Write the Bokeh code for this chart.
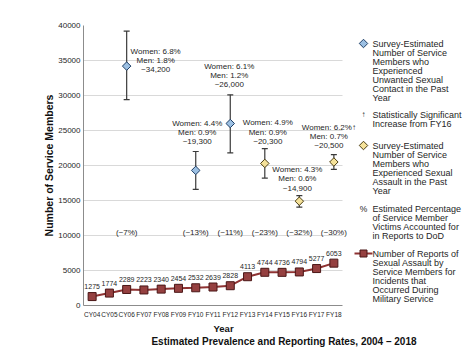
import math
from bokeh.plotting import figure
from bokeh.layouts import column
from bokeh.models import Range1d, FixedTicker, BoxAnnotation, Title, NumeralTickFormatter
from bokeh.core.properties import value
from bokeh.embed import file_html
from bokeh.resources import INLINE

# ---------------- data ----------------
categories = ["CY04", "CY05", "CY06", "FY07", "FY08", "FY09", "FY10", "FY11",
              "FY12", "FY13", "FY14", "FY15", "FY16", "FY17", "FY18"]
reports = [1275, 1774, 2289, 2223, 2340, 2454, 2532, 2639, 2828, 4113, 4744, 4736, 4794, 5277, 6053]

contact_years = ["CY06", "FY10", "FY12"]
contact_est = [34200, 19300, 26000]
contact_low = [29400, 16600, 21800]
contact_high = [39200, 22000, 30100]
contact_women = ["6.8%", "4.4%", "6.1%"]
contact_men = ["1.8%", "0.9%", "1.2%"]

assault_years = ["FY14", "FY16", "FY18"]
assault_est = [20300, 14900, 20500]
assault_low = [18200, 14050, 19450]
assault_high = [22400, 15700, 21550]
assault_women = ["4.9%", "4.3%", "6.2%\u2191"]
assault_men = ["0.9%", "0.6%", "0.7%"]

pct_years = ["CY06", "FY10", "FY12", "FY14", "FY16", "FY18"]
pct_labels = ["(~7%)", "(~13%)", "(~11%)", "(~23%)", "(~32%)", "(~30%)"]

y_ticks = [0, 5000, 10000, 15000, 20000, 25000, 30000, 35000, 40000]

legend_blocks = [
    ("blue", ["Survey-Estimated", "Number of Service", "Members who", "Experienced",
              "Unwanted Sexual", "Contact in the Past", "Year"]),
    ("arrow", ["Statistically Significant", "Increase from FY16"]),
    ("yellow", ["Survey-Estimated", "Number of Service", "Members who",
                "Experienced Sexual", "Assault in the Past", "Year"]),
    ("pct", ["Estimated Percentage", "of Service Member", "Victims Accounted for",
             "in Reports to DoD"]),
    ("line", ["Number of Reports of", "Sexual Assault by", "Service Members for",
              "Incidents that", "Occurred During", "Military Service"]),
]

title_text = "Estimated Prevalence and Reporting Rates, 2004 \u2013 2018"

# ---------------- geometry / style (page pixels) ----------------
BOX_L, BOX_T, BOX_R, BOX_B = 35, 17, 467, 333     # chart box
PW, PH = BOX_R - BOX_L, BOX_B - BOX_T
FL, FR, FT, FB = 83, 467, 25, 305                  # plot frame (page px)
UNIT = 259 / 15.0
X0 = -0.5
X1 = X0 + (FR - FL) / UNIT
YMAX = 40000


def xd(px):
    return X0 + (px - FL) / UNIT


def yd(py):
    return (FB - py) / (FB - FT) * YMAX


FONT = "Liberation Sans"
TXT = "#262626"
BLUE_FILL, BLUE_LINE = "#9CC0E3", "#1F3F66"
YEL_FILL, YEL_LINE = "#F5E29A", "#4A3D12"
RED_LINE, RED_FILL, RED_EDGE = "#8E3232", "#954040", "#4A1616"
ERR = "#3A3A3A"

idx = {c: i for i, c in enumerate(categories)}

p = figure(width=PW, height=PH, x_range=Range1d(X0, X1), y_range=Range1d(0, YMAX),
           output_backend="svg", toolbar_location=None,
           min_border_left=FL - BOX_L, min_border_right=BOX_R - FR,
           min_border_top=FT - BOX_T, min_border_bottom=BOX_B - FB)
p.margin = (BOX_T, 0, 0, BOX_L)
p.outline_line_color = None
p.background_fill_color = "white"
p.border_fill_color = "white"

p.xgrid.visible = False
p.ygrid.ticker = FixedTicker(ticks=y_ticks)
p.ygrid.grid_line_color = "#D9D9D9"
p.ygrid.grid_line_width = 1

# y axis
ya = p.yaxis[0]
ya.ticker = FixedTicker(ticks=y_ticks)
ya.formatter = NumeralTickFormatter(format="0")
ya.axis_line_color = "#8C8C8C"
ya.major_tick_line_color = None
ya.minor_tick_line_color = None
ya.major_tick_out = 0
ya.major_tick_in = 0
ya.major_label_standoff = 3
ya.major_label_text_font = FONT
ya.major_label_text_font_size = "8px"
ya.major_label_text_color = TXT
ya.axis_label = "Number of Service Members"
ya.axis_label_text_font = FONT
ya.axis_label_text_font_style = "bold"
ya.axis_label_text_font_size = "10.5px"
ya.axis_label_text_color = "#111111"
ya.axis_label_standoff = 0

# x axis
xa = p.xaxis[0]
xa.ticker = FixedTicker(ticks=list(range(len(categories))))
xa.major_label_overrides = {i: c for i, c in enumerate(categories)}
xa.bounds = (-0.5, len(categories) - 0.5)
xa.axis_line_color = "#8C8C8C"
xa.major_tick_line_color = None
xa.minor_tick_line_color = None
xa.major_tick_out = 0
xa.major_tick_in = 0
xa.major_label_standoff = 5
xa.major_label_text_font = FONT
xa.major_label_text_font_size = "6.5px"
xa.major_label_text_color = TXT

# "Year" axis title (placed below the axis, offset from frame left)
p.add_layout(Title(text="Year", align="left", offset=223 - FL - 10, standoff=0,
                   text_font=FONT, text_font_style="bold", text_font_size="9.5px",
                   text_color="#111111"), "below")

# cover gridlines in legend region
p.add_layout(BoxAnnotation(left=len(categories) - 0.5, fill_color="white", fill_alpha=1.0,
                           line_color=None, level="underlay"))

# ---------------- reports series ----------------
rx = [idx[c] for c in categories]
p.line(rx, reports, line_color=RED_LINE, line_width=2)
p.scatter(rx, reports, marker="square", size=8, fill_color=RED_FILL, line_color=RED_EDGE,
          line_width=1)
p.text(rx, reports, text=[str(v) for v in reports], y_offset=-10, text_align="center",
       text_baseline="middle", text_font=value(FONT), text_font_size="7px", text_color=TXT)


# ---------------- survey series ----------------
def survey(years, est, low, high, women, men, fill, edge, dx, dy, anchor_est):
    xs = [idx[c] for c in years]
    p.segment(x0=xs, y0=low, x1=xs, y1=high, line_color=ERR, line_width=1.2)
    p.scatter(xs, low, marker="dash", size=6, line_color=ERR, line_width=1.2)
    p.scatter(xs, high, marker="dash", size=6, line_color=ERR, line_width=1.2)
    p.scatter(xs, est, marker="square", angle=math.pi / 4, size=6, fill_color=fill,
              line_color=edge, line_width=1)
    ay = [e if a else h for e, h, a in zip(est, high, anchor_est)]
    lines = [
        ["Women: " + w for w in women],
        ["Men: " + m for m in men],
        ["~{:,}".format(e) for e in est],
    ]
    for k, txt in enumerate(lines):
        off = [d - (2 - k) * 9.2 for d in dy]
        p.text(xs, ay, text=txt, x_offset=dx, y_offset=off, text_align="center",
               text_baseline="middle", text_font=value(FONT), text_font_size="8px",
               text_color=TXT)


survey(contact_years, contact_est, contact_low, contact_high, contact_women, contact_men,
       BLUE_FILL, BLUE_LINE, dx=[29, 1.5, -1], dy=[3.5, -10, -10], anchor_est=[True, False, False])
survey(assault_years, assault_est, assault_low, assault_high, assault_women, assault_men,
       YEL_FILL, YEL_LINE, dx=[3, -2, -5], dy=[-7.5, -7.5, -9], anchor_est=[False, False, False])

# percentage labels
PCT_Y = 10500
p.text([idx[c] for c in pct_years], [PCT_Y] * len(pct_years), text=pct_labels,
       text_align="center", text_baseline="middle", text_font=value(FONT),
       text_font_size="8px", text_color=TXT)

# ---------------- legend (manual, inside extended frame) ----------------
MX, TX = xd(363), xd(372)
starts = [43, 114, 145, 208, 253]
LS = 9.0
for (kind, texts), s in zip(legend_blocks, starts):
    ys = [yd(s + i * LS) for i in range(len(texts))]
    p.text([TX] * len(texts), ys, text=texts, text_align="left", text_baseline="middle",
           text_font=value(FONT), text_font_size="9px", text_color=TXT)
    if kind == "blue":
        p.scatter([MX], [yd(s)], marker="square", angle=math.pi / 4, size=6,
                  fill_color=BLUE_FILL, line_color=BLUE_LINE, line_width=1)
    elif kind == "yellow":
        p.scatter([MX], [yd(s)], marker="square", angle=math.pi / 4, size=6,
                  fill_color=YEL_FILL, line_color=YEL_LINE, line_width=1)
    elif kind == "arrow":
        p.text([MX], [yd(s)], text=["\u2191"], text_align="center", text_baseline="middle",
               text_font=value(FONT), text_font_size="8px", text_color=TXT)
    elif kind == "pct":
        p.text([MX], [yd(s)], text=["%"], text_align="center", text_baseline="middle",
               text_font=value(FONT), text_font_size="8.5px", text_color=TXT)
    else:
        p.line([xd(354), xd(372)], [yd(s), yd(s)], line_color=RED_LINE, line_width=2)
        p.scatter([MX], [yd(s)], marker="square", size=7, fill_color=RED_FILL,
                  line_color=RED_EDGE, line_width=1)

# ---------------- bottom title (separate strip) ----------------
TH = 352 - BOX_B
t = figure(width=474, height=TH, x_range=Range1d(0, 474), y_range=Range1d(0, TH),
           output_backend="svg", toolbar_location=None, min_border=0,
           x_axis_location=None, y_axis_location=None)
t.grid.visible = False
t.outline_line_color = None
t.text([262], [TH - (341 - BOX_B)], text=[title_text], text_align="center",
       text_baseline="middle", text_font=value(FONT), text_font_style="bold",
       text_font_size="10px", text_color="#111111")

layout = column(p, t, spacing=0)
open("out.html", "w").write(file_html(layout, INLINE))
